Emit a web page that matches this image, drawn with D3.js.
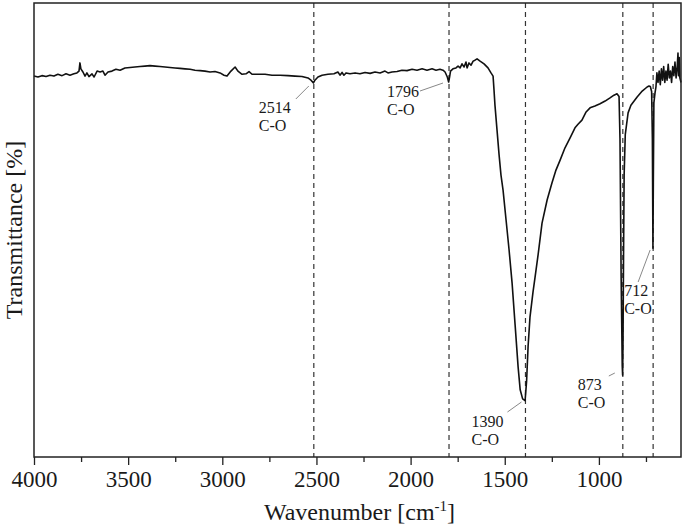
<!DOCTYPE html>
<html lang="en">
<head>
  <meta charset="UTF-8">
  <title>FTIR spectrum</title>
  <script src="https://d3js.org/d3.v7.min.js"></script>
  <style>
    body { margin: 0; background: #fff; }
    text { font-family: "Liberation Serif", "Times New Roman", serif; fill: #1a1a1a; }
  </style>
</head>
<body>
  <script>
    // spectrum: wavenumber [cm-1] and transmittance (relative %)
    const wavenumber = [
      4000, 3979, 3958, 3936, 3915, 3894, 3873, 3851, 3830, 3809, 3788, 3772, 3761, 3756, 3751, 3740,
      3729, 3719, 3708, 3692, 3681, 3665, 3649, 3634, 3623, 3607, 3586, 3565, 3543, 3517, 3490, 3464,
      3437, 3411, 3384, 3357, 3331, 3304, 3278, 3251, 3225, 3198, 3171, 3145, 3118, 3092, 3065, 3039,
      3012, 2991, 2975, 2954, 2932, 2917, 2895, 2874, 2858, 2842, 2810, 2773, 2736, 2693, 2651, 2614,
      2577, 2545, 2529, 2516, 2508, 2492, 2470, 2439, 2407, 2386, 2375, 2364, 2354, 2343, 2322, 2295,
      2269, 2242, 2215, 2189, 2162, 2136, 2120, 2099, 2072, 2046, 2019, 1992, 1966, 1939, 1913, 1886,
      1865, 1844, 1828, 1817, 1805, 1798, 1793, 1788, 1775, 1759, 1748, 1737, 1727, 1716, 1706, 1700,
      1690, 1679, 1668, 1658, 1647, 1631, 1610, 1589, 1573, 1562, 1557, 1552, 1541, 1530, 1520, 1509,
      1493, 1477, 1461, 1445, 1429, 1418, 1405, 1392, 1384, 1376, 1366, 1350, 1339, 1323, 1302, 1275,
      1249, 1228, 1206, 1180, 1153, 1127, 1111, 1090, 1068, 1047, 1021, 994, 967, 941, 920, 904,
      893, 888, 882, 876, 874, 872, 869, 866, 860, 845, 830, 797, 770, 744, 734, 727,
      720, 716, 713, 711, 708, 702, 697, 692, 686, 680, 674, 668, 662, 656, 650, 644,
      638, 632, 626, 620, 614, 608, 602, 596, 590, 584, 580, 577, 573, 570, 567, 564
    ];
    const transmittance = [
      83.9, 83.7, 84.0, 83.8, 84.1, 83.9, 84.3, 84.0, 84.4, 84.1, 84.4, 84.6, 85.0, 86.8, 85.5, 84.8,
      83.9, 84.6, 83.8, 84.4, 83.7, 85.0, 84.8, 85.0, 84.1, 84.8, 85.0, 85.4, 85.2, 85.7, 85.8, 85.9,
      86.0, 86.1, 86.2, 86.1, 86.0, 85.9, 85.8, 85.7, 85.6, 85.5, 85.4, 85.2, 85.1, 85.0, 84.8, 84.9,
      84.6, 84.1, 83.9, 85.0, 85.9, 85.0, 84.3, 84.4, 84.9, 84.3, 84.3, 84.3, 84.1, 84.1, 84.0, 83.9,
      83.8, 83.5, 83.0, 82.4, 83.0, 83.7, 84.1, 84.3, 84.4, 84.8, 84.1, 84.7, 84.1, 84.6, 84.4, 84.6,
      84.4, 84.7, 84.5, 84.8, 84.6, 85.0, 84.6, 84.8, 84.9, 85.2, 85.1, 85.4, 85.2, 85.5, 85.2, 85.5,
      85.2, 85.4, 85.2, 84.8, 83.7, 82.6, 83.7, 85.0, 85.5, 85.7, 86.1, 85.7, 86.6, 85.9, 87.0, 85.7,
      86.8, 86.3, 87.2, 87.4, 87.7, 87.2, 86.6, 85.7, 84.6, 83.9, 80.8, 77.5, 72.0, 66.5, 62.1, 58.8,
      52.2, 45.6, 38.3, 29.1, 19.8, 14.8, 12.8, 12.4, 16.7, 24.4, 30.8, 36.3, 39.6, 44.5, 51.5, 56.6,
      60.4, 63.2, 65.4, 68.1, 70.3, 72.5, 73.3, 74.2, 76.0, 76.9, 77.3, 77.8, 78.4, 79.1, 79.7, 80.0,
      79.4, 70.0, 40.0, 20.0, 18.0, 25.0, 45.0, 62.0, 71.0, 75.8, 77.5, 79.3, 80.6, 81.5, 81.7, 81.6,
      80.5, 70.0, 46.0, 60.0, 78.0, 80.2, 81.5, 84.6, 82.5, 85.0, 82.0, 85.5, 83.0, 86.0, 82.5, 85.0,
      83.0, 86.5, 83.5, 85.0, 82.5, 86.0, 84.0, 87.0, 83.5, 86.0, 89.0, 84.0, 88.0, 83.5, 83.0, 82.5
    ];
    const spectrum = wavenumber.map((w, i) => ({ w: w, t: transmittance[i] }));

    // marked bands
    const peaks = [2514, 1796, 1390, 873, 712];
    const peakLabels = ["2514", "1796", "1390", "873", "712"];
    const bondLabel = "C-O";

    const xTicks = [4000, 3500, 3000, 2500, 2000, 1500, 1000];
    const xMinorTicks = [3750, 3250, 2750, 2250, 1750, 1250, 750];

    // label placement (pixels, relative to the band's x)
    const labelLayout = [
      { dx: -55, y: 113, lx1: -18, ly1: 99, lx2: -5, ly2: 86 },
      { dx: -62, y: 97, lx1: -29, ly1: 91, lx2: -6, ly2: 83 },
      { dx: -54, y: 427, lx1: -18, ly1: 412, lx2: -4, ly2: 402 },
      { dx: -45, y: 390, lx1: -14, ly1: 376, lx2: -8, ly2: 373 },
      { dx: -29, y: 296, lx1: -15, ly1: 282, lx2: -3, ly2: 250 }
    ];

    const width = 685, height = 527;
    const margin = { top: 3, right: 4, bottom: 70, left: 34 };
    const innerW = width - margin.left - margin.right;
    const innerH = height - margin.top - margin.bottom;

    const svg = d3.select("body")
      .append("svg")
      .attr("width", width)
      .attr("height", height);

    const g = svg.append("g")
      .attr("transform", `translate(${margin.left},${margin.top})`);

    const x = d3.scaleLinear().domain([4000, 564]).range([0, innerW]);
    const y = d3.scaleLinear().domain([0, 100]).range([innerH, 0]);

    // dashed band markers
    g.selectAll(".band")
      .data(peaks)
      .enter()
      .append("line")
      .attr("class", "band")
      .attr("x1", d => x(d))
      .attr("x2", d => x(d))
      .attr("y1", 0)
      .attr("y2", innerH)
      .attr("stroke", "#333")
      .attr("stroke-width", 1.2)
      .attr("stroke-dasharray", "5,4");

    // spectrum line
    const line = d3.line()
      .x(d => x(d.w))
      .y(d => y(d.t));

    g.append("path")
      .datum(spectrum)
      .attr("fill", "none")
      .attr("stroke", "#111")
      .attr("stroke-width", 1.6)
      .attr("stroke-linejoin", "round")
      .attr("d", line);

    // band labels with leader lines
    peaks.forEach((p, i) => {
      const L = labelLayout[i];
      const px = x(p) + margin.left;
      svg.append("line")
        .attr("x1", px + L.lx1)
        .attr("y1", L.ly1)
        .attr("x2", px + L.lx2)
        .attr("y2", L.ly2)
        .attr("stroke", "#888")
        .attr("stroke-width", 1);
      svg.append("text")
        .attr("x", px + L.dx)
        .attr("y", L.y)
        .attr("font-size", 16)
        .text(peakLabels[i]);
      svg.append("text")
        .attr("x", px + L.dx)
        .attr("y", L.y + 18)
        .attr("font-size", 16)
        .text(bondLabel);
    });

    // frame
    g.append("rect")
      .attr("width", innerW)
      .attr("height", innerH)
      .attr("fill", "none")
      .attr("stroke", "#222")
      .attr("stroke-width", 1.5);

    // bottom axis
    const xAxis = g.append("g")
      .attr("transform", `translate(0,${innerH})`)
      .call(d3.axisBottom(x).tickValues(xTicks).tickFormat(d3.format("d"))
        .tickSize(8).tickSizeOuter(0).tickPadding(6));
    xAxis.select(".domain").remove();
    xAxis.selectAll("text").attr("font-size", 23).attr("fill", "#1a1a1a");
    xAxis.selectAll("line").attr("stroke", "#222").attr("stroke-width", 1.3);

    const xMinor = g.append("g")
      .attr("transform", `translate(0,${innerH})`)
      .call(d3.axisBottom(x).tickValues(xMinorTicks).tickSize(5).tickFormat(""));
    xMinor.select(".domain").remove();
    xMinor.selectAll("line").attr("stroke", "#222").attr("stroke-width", 1.3);

    // axis titles
    const xTitle = svg.append("text")
      .attr("x", margin.left + innerW / 2 + 2)
      .attr("y", 520)
      .attr("text-anchor", "middle")
      .attr("font-size", 24);
    xTitle.append("tspan").text("Wavenumber [cm");
    xTitle.append("tspan").attr("dy", -9).attr("font-size", 15).text("-1");
    xTitle.append("tspan").attr("dy", 9).text("]");

    svg.append("text")
      .attr("transform", `translate(22,${margin.top + innerH / 2}) rotate(-90)`)
      .attr("text-anchor", "middle")
      .attr("font-size", 24)
      .text("Transmittance [%]");
  </script>
</body>
</html>
